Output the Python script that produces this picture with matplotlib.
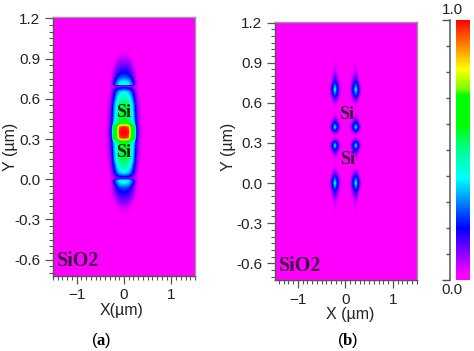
import numpy as np
import matplotlib
matplotlib.use('Agg')
import matplotlib.pyplot as plt
from matplotlib.colors import LinearSegmentedColormap, Normalize
from matplotlib.cm import ScalarMappable
from matplotlib.ticker import MultipleLocator, FixedLocator, NullFormatter

plt.rcParams['font.family'] = ['Liberation Sans', 'DejaVu Sans']
plt.rcParams['mathtext.fontset'] = 'custom'
plt.rcParams['mathtext.rm'] = 'Liberation Serif'
plt.rcParams['mathtext.bf'] = 'Liberation Serif:bold'

W, H = 474, 351

# colour scale
scale_pos = [0.0, 0.03, 0.2, 0.39, 0.5, 0.6, 0.71, 0.73, 0.81, 1.0]
scale_col = ['#ff00ff', '#f000ff', '#0000ff', '#00ffff', '#00ff90', '#00ff00',
             '#00ff00', '#70ff00', '#ffff00', '#ff0000']

# panel (a): half field, |x| across and distance from y=0.35 down
a_center = 0.35
a_x = [0, 0.05, 0.085, 0.11, 0.14, 0.18, 0.21, 0.24, 0.28, 0.35, 0.45]
a_dy = [0, 0.035, 0.05, 0.065, 0.1, 0.15, 0.2, 0.25, 0.3, 0.325, 0.345, 0.36,
        0.38, 0.41, 0.45, 0.5, 0.56, 0.62]
a_field = [
    [1.00, 1.00, 0.98, 0.85, 0.72, 0.66, 0.62, 0.30, 0.13, 0.04, 0],
    [0.98, 0.97, 0.94, 0.80, 0.70, 0.65, 0.60, 0.28, 0.13, 0.04, 0],
    [0.84, 0.82, 0.78, 0.72, 0.66, 0.60, 0.55, 0.24, 0.12, 0.03, 0],
    [0.62, 0.60, 0.57, 0.54, 0.50, 0.42, 0.34, 0.20, 0.12, 0.03, 0],
    [0.58, 0.56, 0.54, 0.50, 0.46, 0.38, 0.30, 0.19, 0.11, 0.03, 0],
    [0.58, 0.56, 0.53, 0.50, 0.44, 0.36, 0.28, 0.18, 0.10, 0.02, 0],
    [0.56, 0.54, 0.51, 0.48, 0.42, 0.34, 0.26, 0.16, 0.08, 0.02, 0],
    [0.48, 0.46, 0.44, 0.41, 0.36, 0.27, 0.20, 0.13, 0.06, 0.01, 0],
    [0.38, 0.36, 0.34, 0.31, 0.27, 0.20, 0.15, 0.09, 0.04, 0, 0],
    [0.22, 0.21, 0.20, 0.18, 0.16, 0.12, 0.09, 0.06, 0.03, 0, 0],
    [0.05, 0.05, 0.05, 0.05, 0.05, 0.05, 0.05, 0.06, 0.03, 0, 0],
    [0.42, 0.41, 0.39, 0.36, 0.32, 0.25, 0.16, 0.07, 0.04, 0, 0],
    [0.37, 0.36, 0.34, 0.31, 0.27, 0.20, 0.13, 0.07, 0.03, 0, 0],
    [0.26, 0.25, 0.24, 0.22, 0.18, 0.14, 0.10, 0.05, 0.02, 0, 0],
    [0.19, 0.18, 0.17, 0.15, 0.13, 0.10, 0.07, 0.04, 0.01, 0, 0],
    [0.12, 0.12, 0.11, 0.10, 0.08, 0.05, 0.03, 0.02, 0, 0, 0],
    [0.05, 0.05, 0.04, 0.03, 0.02, 0.01, 0, 0, 0, 0, 0],
    [0, 0, 0, 0, 0, 0, 0, 0, 0, 0, 0],
]

# panel (b): same layout, eight small spots
b_center = 0.35
b_x = [0, 0.1, 0.14, 0.17, 0.2, 0.22, 0.24, 0.27, 0.3, 0.34]
b_dy = [0, 0.02, 0.04, 0.055, 0.07, 0.085, 0.105, 0.13, 0.16, 0.2, 0.25, 0.29,
        0.32, 0.35, 0.38, 0.41, 0.45, 0.5, 0.56, 0.62]
b_field = [
    [0, 0, 0, 0, 0.01, 0.01, 0.01, 0, 0, 0],
    [0, 0, 0.01, 0.03, 0.05, 0.06, 0.05, 0.02, 0, 0],
    [0, 0.01, 0.05, 0.10, 0.15, 0.17, 0.14, 0.09, 0.03, 0],
    [0, 0.02, 0.08, 0.17, 0.22, 0.26, 0.22, 0.16, 0.07, 0.01],
    [0, 0.03, 0.10, 0.20, 0.26, 0.36, 0.26, 0.19, 0.09, 0.02],
    [0, 0.02, 0.08, 0.16, 0.22, 0.26, 0.21, 0.15, 0.06, 0.01],
    [0, 0.01, 0.05, 0.10, 0.16, 0.18, 0.15, 0.08, 0.03, 0],
    [0, 0, 0.02, 0.04, 0.08, 0.10, 0.07, 0.03, 0, 0],
    [0, 0, 0, 0.01, 0.03, 0.04, 0.02, 0, 0, 0],
    [0, 0, 0, 0, 0.01, 0.01, 0.01, 0, 0, 0],
    [0, 0, 0, 0.01, 0.03, 0.05, 0.03, 0.01, 0, 0],
    [0, 0.01, 0.04, 0.09, 0.14, 0.16, 0.13, 0.07, 0.02, 0],
    [0, 0.02, 0.08, 0.17, 0.22, 0.27, 0.22, 0.16, 0.07, 0.01],
    [0, 0.03, 0.10, 0.20, 0.27, 0.38, 0.27, 0.19, 0.09, 0.02],
    [0, 0.02, 0.08, 0.16, 0.22, 0.27, 0.21, 0.15, 0.06, 0.01],
    [0, 0.01, 0.05, 0.10, 0.16, 0.18, 0.15, 0.08, 0.02, 0],
    [0, 0, 0.02, 0.04, 0.09, 0.11, 0.08, 0.03, 0, 0],
    [0, 0, 0, 0.01, 0.04, 0.05, 0.03, 0.01, 0, 0],
    [0, 0, 0, 0, 0.01, 0.02, 0.01, 0, 0, 0],
    [0, 0, 0, 0, 0, 0, 0, 0, 0, 0],
]

x_ticks = [-1, 0, 1]
y_ticks = [-0.6, -0.3, 0.0, 0.3, 0.6, 0.9, 1.2]

cmap = LinearSegmentedColormap.from_list('field', list(zip(scale_pos, scale_col)), N=512)
norm = Normalize(0, 1)
levels = np.linspace(0, 1, 129)
line_col = '#555555'


def px_axes(fig, left, top, right, bottom):
    return fig.add_axes([left / W, 1 - bottom / H, (right - left) / W, (bottom - top) / H])


def draw_panel(ax, xs, dys, field, center, xlim, ylim):
    # the field is symmetric in x and about the centre line
    field = np.array(field, dtype=float)
    full = np.hstack([field[:, :0:-1], field])
    full = np.vstack([full[:0:-1], full])
    xs = np.array(xs)
    dys = np.array(dys)
    gx = np.concatenate([-xs[:0:-1], xs])
    gy = np.concatenate([center - dys[:0:-1], center + dys])
    ax.set_facecolor(cmap(0.0))
    ax.contourf(gx, gy, full, levels=levels, cmap=cmap, norm=norm, extend='both')
    ax.set_xlim(*xlim)
    ax.set_ylim(*ylim)
    ax.xaxis.set_major_locator(FixedLocator(x_ticks))
    ax.yaxis.set_major_locator(FixedLocator(y_ticks))
    ax.set_yticklabels(['%.1f' % v for v in y_ticks])
    ax.xaxis.set_minor_locator(MultipleLocator(0.1))
    ax.yaxis.set_minor_locator(MultipleLocator(0.05))
    ax.tick_params(which='major', length=6, width=0.9, color=line_col, labelsize=11,
                   labelcolor='#222222', pad=3)
    ax.tick_params(which='minor', length=3, width=0.8, color=line_col)
    for s in ax.spines.values():
        s.set_color('#9a9a9a')
        s.set_linewidth(1.0)
    ax.spines['left'].set_color(line_col)
    ax.spines['bottom'].set_color(line_col)


def serif(ax, x, y, s, color, size=13, ha='center'):
    ax.text(x, y, s, color=color, fontsize=size, fontweight='bold', ha=ha, va='center',
            family='Liberation Serif')


fig = plt.figure(figsize=(W / 100, H / 100), dpi=100)

ax_a = px_axes(fig, 53, 17, 195, 275.5)
draw_panel(ax_a, a_x, a_dy, a_field, a_center, (-1.5, 1.5), (-0.718, 1.21))
serif(ax_a, 0, 0.50, 'Si', '#062a10')
serif(ax_a, 0, 0.196, 'Si', '#062a10')
serif(ax_a, -1.41, -0.61, 'SiO2', '#3a0040', size=14.5, ha='left')

ax_b = px_axes(fig, 274.7, 21.7, 417, 280)
draw_panel(ax_b, b_x, b_dy, b_field, b_center, (-1.49, 1.51), (-0.725, 1.207))
serif(ax_b, 0.02, 0.51, 'Si', '#3a0040')
serif(ax_b, 0.05, 0.173, 'Si', '#3a0040')
serif(ax_b, -1.41, -0.617, 'SiO2', '#3a0040', size=14.5, ha='left')

# colour bar with its scale standing off to the left
cax = px_axes(fig, 456.3, 19.7, 470.3, 280)
cb = fig.colorbar(ScalarMappable(norm=norm, cmap=cmap), cax=cax)
cb.outline.set_visible(False)
cb.set_ticks([])

sax = px_axes(fig, 450, 19.7, 451, 280)
sax.set_ylim(0, 1)
sax.set_xticks([])
sax.patch.set_alpha(0)
for name, s in sax.spines.items():
    s.set_visible(name == 'left')
sax.spines['left'].set_color(line_col)
sax.spines['left'].set_linewidth(1.1)
sax.yaxis.set_major_locator(FixedLocator([0, 1]))
sax.yaxis.set_major_formatter(NullFormatter())
sax.yaxis.set_minor_locator(MultipleLocator(0.1))
sax.tick_params(which='major', length=6, width=1.0, color=line_col)
sax.tick_params(which='minor', length=3, width=1.0, color=line_col)

txt = '#222222'
fig.text(452 / W, 1 - 10 / H, '1.0', fontsize=11, color=txt, ha='center', va='center')
fig.text(452 / W, 1 - 290 / H, '0.0', fontsize=11, color=txt, ha='center', va='center')
fig.text(122 / W, 1 - 310 / H, 'X(µm)', fontsize=11.5, color=txt, ha='center', va='center')
fig.text(350 / W, 1 - 315 / H, 'X (µm)', fontsize=11.5, color=txt, ha='center', va='center')
fig.text(10 / W, 1 - 147 / H, 'Y (µm)', fontsize=11.5, color=txt, rotation=90, ha='center', va='center')
fig.text(228 / W, 1 - 147 / H, 'Y (µm)', fontsize=11.5, color=txt, rotation=90, ha='center', va='center')
fig.text(101 / W, 1 - 340 / H, r'($\mathbf{a}$)', fontsize=12, color='black', ha='center', va='center')
fig.text(348 / W, 1 - 340 / H, r'($\mathbf{b}$)', fontsize=12, color='black', ha='center', va='center')

fig.savefig('out.png', dpi=100)
